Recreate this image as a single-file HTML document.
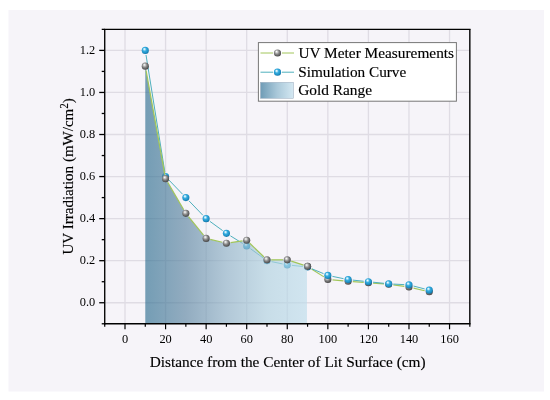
<!DOCTYPE html>
<html><head><meta charset="utf-8"><title>UV Irradiation</title>
<style>
html,body{margin:0;padding:0;background:#fff;}
body{width:550px;height:400px;overflow:hidden;}
svg{display:block;font-family:"Liberation Serif",serif;}
text{stroke:#000;stroke-width:0.15px;}
.tk text{stroke:none;}
</style></head><body>
<svg width="550" height="400" viewBox="0 0 550 400">
<defs>
<radialGradient id="gs" cx="0.45" cy="0.42" r="0.62" fx="0.36" fy="0.3">
<stop offset="0" stop-color="#ffffff"/><stop offset="0.18" stop-color="#d8d8d8"/><stop offset="0.5" stop-color="#8a8a8a"/><stop offset="1" stop-color="#3e3e3e"/>
</radialGradient>
<radialGradient id="bs" cx="0.45" cy="0.42" r="0.62" fx="0.36" fy="0.3">
<stop offset="0" stop-color="#ffffff"/><stop offset="0.15" stop-color="#c4ecfa"/><stop offset="0.42" stop-color="#36acdf"/><stop offset="0.75" stop-color="#1e92c7"/><stop offset="1" stop-color="#0f6c9c"/>
</radialGradient>
<linearGradient id="fillg" gradientUnits="userSpaceOnUse" x1="145.28" y1="0" x2="307.56" y2="0">
<stop offset="0" stop-color="rgb(46,110,144)" stop-opacity="0.65"/><stop offset="0.25" stop-color="rgb(92,133,161)" stop-opacity="0.65"/><stop offset="0.5" stop-color="rgb(141,176,197)" stop-opacity="0.65"/><stop offset="0.75" stop-color="rgb(175,209,223)" stop-opacity="0.65"/><stop offset="1" stop-color="rgb(189,221,235)" stop-opacity="0.65"/>
</linearGradient>
<linearGradient id="sw" x1="0" y1="0" x2="1" y2="0">
<stop offset="0" stop-color="#6f9cb6"/><stop offset="0.5" stop-color="#a9c8d9"/><stop offset="1" stop-color="#d4e8f2"/>
</linearGradient>
</defs>
<rect x="0" y="0" width="550" height="400" fill="#ffffff"/>
<rect x="8.5" y="10" width="535.5" height="381.5" fill="#f6f4f9"/>

<g stroke="#dfdce4" stroke-width="1.3"><line x1="125.00" y1="29.36" x2="125.00" y2="323.78"/>
<line x1="165.57" y1="29.36" x2="165.57" y2="323.78"/>
<line x1="206.14" y1="29.36" x2="206.14" y2="323.78"/>
<line x1="246.70" y1="29.36" x2="246.70" y2="323.78"/>
<line x1="287.27" y1="29.36" x2="287.27" y2="323.78"/>
<line x1="327.84" y1="29.36" x2="327.84" y2="323.78"/>
<line x1="368.41" y1="29.36" x2="368.41" y2="323.78"/>
<line x1="408.98" y1="29.36" x2="408.98" y2="323.78"/>
<line x1="449.54" y1="29.36" x2="449.54" y2="323.78"/>
<line x1="104.72" y1="302.75" x2="469.83" y2="302.75"/>
<line x1="104.72" y1="260.69" x2="469.83" y2="260.69"/>
<line x1="104.72" y1="218.63" x2="469.83" y2="218.63"/>
<line x1="104.72" y1="176.57" x2="469.83" y2="176.57"/>
<line x1="104.72" y1="134.51" x2="469.83" y2="134.51"/>
<line x1="104.72" y1="92.45" x2="469.83" y2="92.45"/>
<line x1="104.72" y1="50.39" x2="469.83" y2="50.39"/></g>
<line x1="311.51" y1="268.91" x2="323.89" y2="276.87" stroke="#a2c65a" stroke-width="1.15"/>
<line x1="332.52" y1="279.84" x2="343.44" y2="280.86" stroke="#a2c65a" stroke-width="1.15"/>
<line x1="352.81" y1="281.64" x2="363.72" y2="282.43" stroke="#a2c65a" stroke-width="1.15"/>
<line x1="373.10" y1="283.11" x2="384.00" y2="283.90" stroke="#a2c65a" stroke-width="1.15"/>
<line x1="393.35" y1="284.87" x2="404.32" y2="286.35" stroke="#a2c65a" stroke-width="1.15"/>
<line x1="413.55" y1="288.07" x2="424.69" y2="290.72" stroke="#a2c65a" stroke-width="1.15"/>
<circle cx="307.56" cy="266.37" r="3.55" fill="url(#gs)"/>
<circle cx="327.84" cy="279.41" r="3.55" fill="url(#gs)"/>
<circle cx="348.12" cy="281.30" r="3.55" fill="url(#gs)"/>
<circle cx="368.41" cy="282.77" r="3.55" fill="url(#gs)"/>
<circle cx="388.69" cy="284.24" r="3.55" fill="url(#gs)"/>
<circle cx="408.98" cy="286.98" r="3.55" fill="url(#gs)"/>
<circle cx="429.26" cy="291.81" r="3.55" fill="url(#gs)"/>
<line x1="146.03" y1="55.03" x2="164.82" y2="171.93" stroke="#4fb0bd" stroke-width="1.0"/>
<line x1="168.83" y1="179.95" x2="182.59" y2="194.22" stroke="#4fb0bd" stroke-width="1.0"/>
<line x1="189.11" y1="200.98" x2="202.87" y2="215.25" stroke="#4fb0bd" stroke-width="1.0"/>
<line x1="209.94" y1="221.39" x2="222.62" y2="230.59" stroke="#4fb0bd" stroke-width="1.0"/>
<line x1="230.41" y1="235.83" x2="242.71" y2="243.49" stroke="#4fb0bd" stroke-width="1.0"/>
<line x1="250.51" y1="248.73" x2="263.18" y2="257.93" stroke="#4fb0bd" stroke-width="1.0"/>
<line x1="271.59" y1="261.64" x2="282.67" y2="263.94" stroke="#4fb0bd" stroke-width="1.0"/>
<line x1="291.95" y1="265.38" x2="302.88" y2="266.51" stroke="#4fb0bd" stroke-width="1.0"/>
<line x1="311.90" y1="268.80" x2="323.50" y2="273.61" stroke="#4fb0bd" stroke-width="1.0"/>
<line x1="332.44" y1="276.37" x2="343.52" y2="278.66" stroke="#4fb0bd" stroke-width="1.0"/>
<line x1="352.80" y1="280.10" x2="363.73" y2="281.24" stroke="#4fb0bd" stroke-width="1.0"/>
<line x1="373.08" y1="282.20" x2="384.02" y2="283.34" stroke="#4fb0bd" stroke-width="1.0"/>
<line x1="393.39" y1="284.07" x2="404.28" y2="284.63" stroke="#4fb0bd" stroke-width="1.0"/>
<line x1="413.53" y1="286.05" x2="424.71" y2="288.95" stroke="#4fb0bd" stroke-width="1.0"/>
<circle cx="145.28" cy="50.39" r="3.55" fill="url(#bs)"/>
<circle cx="165.57" cy="176.57" r="3.55" fill="url(#bs)"/>
<circle cx="185.85" cy="197.60" r="3.55" fill="url(#bs)"/>
<circle cx="206.14" cy="218.63" r="3.55" fill="url(#bs)"/>
<circle cx="226.42" cy="233.35" r="3.55" fill="url(#bs)"/>
<circle cx="246.70" cy="245.97" r="3.55" fill="url(#bs)"/>
<circle cx="266.99" cy="260.69" r="3.55" fill="url(#bs)"/>
<circle cx="287.27" cy="264.90" r="3.55" fill="url(#bs)"/>
<circle cx="307.56" cy="267.00" r="3.55" fill="url(#bs)"/>
<circle cx="327.84" cy="275.41" r="3.55" fill="url(#bs)"/>
<circle cx="348.12" cy="279.62" r="3.55" fill="url(#bs)"/>
<circle cx="368.41" cy="281.72" r="3.55" fill="url(#bs)"/>
<circle cx="388.69" cy="283.82" r="3.55" fill="url(#bs)"/>
<circle cx="408.98" cy="284.87" r="3.55" fill="url(#bs)"/>
<circle cx="429.26" cy="290.13" r="3.55" fill="url(#bs)"/>
<polygon points="145.28,323.78 145.28,66.16 165.57,178.67 185.85,213.37 206.14,238.40 226.42,243.24 246.70,240.29 266.99,259.85 287.27,259.85 306.96,266.37 306.96,323.78" fill="url(#fillg)"/>
<line x1="146.03" y1="70.30" x2="164.82" y2="174.54" stroke="#a2c65a" stroke-width="1.25"/>
<line x1="167.69" y1="182.30" x2="183.73" y2="209.75" stroke="#a2c65a" stroke-width="1.25"/>
<line x1="188.50" y1="216.64" x2="203.49" y2="235.14" stroke="#a2c65a" stroke-width="1.25"/>
<line x1="210.22" y1="239.37" x2="222.33" y2="242.26" stroke="#a2c65a" stroke-width="1.25"/>
<line x1="230.58" y1="242.63" x2="242.55" y2="240.89" stroke="#a2c65a" stroke-width="1.25"/>
<line x1="249.73" y1="243.21" x2="263.96" y2="256.93" stroke="#a2c65a" stroke-width="1.25"/>
<line x1="271.19" y1="259.85" x2="283.07" y2="259.85" stroke="#a2c65a" stroke-width="1.25"/>
<line x1="291.27" y1="261.13" x2="303.56" y2="265.08" stroke="#a2c65a" stroke-width="1.25"/>
<circle cx="145.28" cy="66.16" r="3.55" fill="url(#gs)"/>
<circle cx="165.57" cy="178.67" r="3.55" fill="url(#gs)"/>
<circle cx="185.85" cy="213.37" r="3.55" fill="url(#gs)"/>
<circle cx="206.14" cy="238.40" r="3.55" fill="url(#gs)"/>
<circle cx="226.42" cy="243.24" r="3.55" fill="url(#gs)"/>
<circle cx="246.70" cy="240.29" r="3.55" fill="url(#gs)"/>
<circle cx="266.99" cy="259.85" r="3.55" fill="url(#gs)"/>
<circle cx="287.27" cy="259.85" r="3.55" fill="url(#gs)"/>
<circle cx="307.56" cy="266.37" r="3.55" fill="url(#gs)"/>
<g stroke="#000" fill="none">
<line x1="104.02" y1="29.36" x2="470.53" y2="29.36" stroke-width="1.3"/>
<line x1="469.83" y1="29.36" x2="469.83" y2="323.78" stroke-width="1.4"/>
<line x1="104.72" y1="29.36" x2="104.72" y2="324.48" stroke-width="1.35"/>
<line x1="104.02" y1="323.78" x2="470.53" y2="323.78" stroke-width="1.35"/>
<line x1="104.72" y1="323.78" x2="104.72" y2="326.78" stroke-width="1.2"/>
<line x1="125.00" y1="323.78" x2="125.00" y2="329.28" stroke-width="1.2"/>
<line x1="145.28" y1="323.78" x2="145.28" y2="326.78" stroke-width="1.2"/>
<line x1="165.57" y1="323.78" x2="165.57" y2="329.28" stroke-width="1.2"/>
<line x1="185.85" y1="323.78" x2="185.85" y2="326.78" stroke-width="1.2"/>
<line x1="206.14" y1="323.78" x2="206.14" y2="329.28" stroke-width="1.2"/>
<line x1="226.42" y1="323.78" x2="226.42" y2="326.78" stroke-width="1.2"/>
<line x1="246.70" y1="323.78" x2="246.70" y2="329.28" stroke-width="1.2"/>
<line x1="266.99" y1="323.78" x2="266.99" y2="326.78" stroke-width="1.2"/>
<line x1="287.27" y1="323.78" x2="287.27" y2="329.28" stroke-width="1.2"/>
<line x1="307.56" y1="323.78" x2="307.56" y2="326.78" stroke-width="1.2"/>
<line x1="327.84" y1="323.78" x2="327.84" y2="329.28" stroke-width="1.2"/>
<line x1="348.12" y1="323.78" x2="348.12" y2="326.78" stroke-width="1.2"/>
<line x1="368.41" y1="323.78" x2="368.41" y2="329.28" stroke-width="1.2"/>
<line x1="388.69" y1="323.78" x2="388.69" y2="326.78" stroke-width="1.2"/>
<line x1="408.98" y1="323.78" x2="408.98" y2="329.28" stroke-width="1.2"/>
<line x1="429.26" y1="323.78" x2="429.26" y2="326.78" stroke-width="1.2"/>
<line x1="449.54" y1="323.78" x2="449.54" y2="329.28" stroke-width="1.2"/>
<line x1="469.83" y1="323.78" x2="469.83" y2="326.78" stroke-width="1.2"/>
<line x1="101.72" y1="323.78" x2="104.72" y2="323.78" stroke-width="1.3"/>
<line x1="99.22" y1="302.75" x2="104.72" y2="302.75" stroke-width="1.3"/>
<line x1="101.72" y1="281.72" x2="104.72" y2="281.72" stroke-width="1.3"/>
<line x1="99.22" y1="260.69" x2="104.72" y2="260.69" stroke-width="1.3"/>
<line x1="101.72" y1="239.66" x2="104.72" y2="239.66" stroke-width="1.3"/>
<line x1="99.22" y1="218.63" x2="104.72" y2="218.63" stroke-width="1.3"/>
<line x1="101.72" y1="197.60" x2="104.72" y2="197.60" stroke-width="1.3"/>
<line x1="99.22" y1="176.57" x2="104.72" y2="176.57" stroke-width="1.3"/>
<line x1="101.72" y1="155.54" x2="104.72" y2="155.54" stroke-width="1.3"/>
<line x1="99.22" y1="134.51" x2="104.72" y2="134.51" stroke-width="1.3"/>
<line x1="101.72" y1="113.48" x2="104.72" y2="113.48" stroke-width="1.3"/>
<line x1="99.22" y1="92.45" x2="104.72" y2="92.45" stroke-width="1.3"/>
<line x1="101.72" y1="71.42" x2="104.72" y2="71.42" stroke-width="1.3"/>
<line x1="99.22" y1="50.39" x2="104.72" y2="50.39" stroke-width="1.3"/>
<line x1="101.72" y1="29.36" x2="104.72" y2="29.36" stroke-width="1.3"/>
</g>
<g class="tk" font-size="13" fill="#000">
<text transform="translate(125.00,342.5) scale(0.953,1)" text-anchor="middle">0</text>
<text transform="translate(165.57,342.5) scale(0.953,1)" text-anchor="middle">20</text>
<text transform="translate(206.14,342.5) scale(0.953,1)" text-anchor="middle">40</text>
<text transform="translate(246.70,342.5) scale(0.953,1)" text-anchor="middle">60</text>
<text transform="translate(287.27,342.5) scale(0.953,1)" text-anchor="middle">80</text>
<text transform="translate(327.84,342.5) scale(0.953,1)" text-anchor="middle">100</text>
<text transform="translate(368.41,342.5) scale(0.953,1)" text-anchor="middle">120</text>
<text transform="translate(408.98,342.5) scale(0.953,1)" text-anchor="middle">140</text>
<text transform="translate(449.54,342.5) scale(0.953,1)" text-anchor="middle">160</text>
<text transform="translate(95.3,306.35) scale(0.953,1)" text-anchor="end">0.0</text>
<text transform="translate(95.3,264.29) scale(0.953,1)" text-anchor="end">0.2</text>
<text transform="translate(95.3,222.23) scale(0.953,1)" text-anchor="end">0.4</text>
<text transform="translate(95.3,180.17) scale(0.953,1)" text-anchor="end">0.6</text>
<text transform="translate(95.3,138.11) scale(0.953,1)" text-anchor="end">0.8</text>
<text transform="translate(95.3,96.05) scale(0.953,1)" text-anchor="end">1.0</text>
<text transform="translate(95.3,53.99) scale(0.953,1)" text-anchor="end">1.2</text>
</g>
<text transform="translate(149.7,367.2) scale(0.982,1)" font-size="15.6" fill="#000">Distance from the Center of Lit Surface (cm)</text>
<text transform="translate(73.4,254.5) rotate(-90) scale(0.964,1)" font-size="15.6" fill="#000">UV Irradiation (mW/cm<tspan font-size="11.5" dy="-5.2">2</tspan><tspan dy="5.2">)</tspan></text>
<rect x="258.4" y="42.6" width="198" height="58.6" fill="#ffffff" stroke="#777" stroke-width="1"/>
<line x1="260.5" y1="53" x2="273" y2="53" stroke="#a2c65a" stroke-width="1"/><line x1="282" y1="53" x2="294" y2="53" stroke="#a2c65a" stroke-width="1"/>
<circle cx="277.5" cy="53" r="3.6" fill="url(#gs)"/>
<line x1="260.5" y1="72.2" x2="273" y2="72.2" stroke="#4fb0bd" stroke-width="1"/><line x1="282" y1="72.2" x2="294" y2="72.2" stroke="#4fb0bd" stroke-width="1"/>
<circle cx="277.5" cy="72.2" r="3.6" fill="url(#bs)"/>
<rect x="260.5" y="82.3" width="33" height="16" fill="url(#sw)" stroke="#9ab" stroke-width="0.5"/>
<g font-size="15.6" fill="#000"><text transform="translate(298.4,57.9) scale(0.984,1)">UV Meter Measurements</text><text transform="translate(298.3,76.8) scale(0.978,1)">Simulation Curve</text><text transform="translate(298.2,94.9) scale(0.986,1)">Gold Range</text></g>
</svg></body></html>
